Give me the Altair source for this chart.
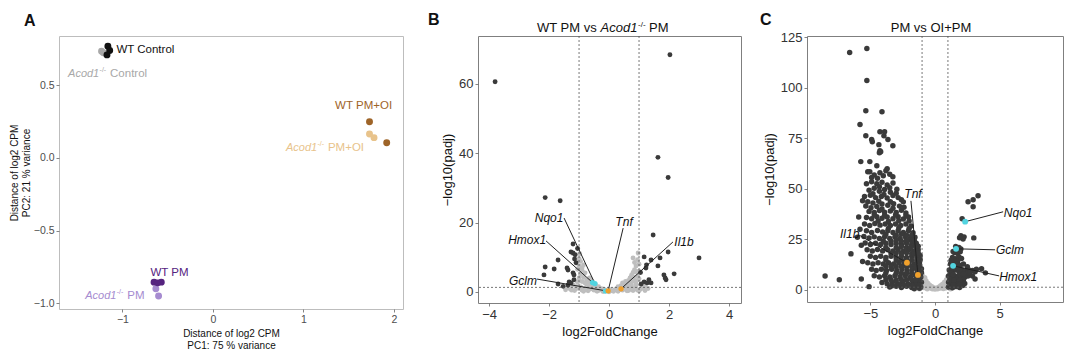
import altair as alt
import pandas as pd

FONT = "Liberation Sans"

# ---------------- Panel A : PCA ----------------
pca_group = ["Acod1 Control", "Acod1 Control", "WT Control", "WT Control", "WT Control",
             "Acod1 PM+OI", "Acod1 PM+OI", "WT PM+OI", "WT PM+OI",
             "Acod1 PM", "Acod1 PM", "WT PM", "WT PM", "WT PM"]
pca_pc1 = [-1.23, -1.21, -1.16, -1.14, -1.17, 1.73, 1.78, 1.73, 1.92, -0.63, -0.60, -0.65, -0.61, -0.57]
pca_pc2 = [0.735, 0.725, 0.77, 0.74, 0.71, 0.165, 0.14, 0.25, 0.105, -0.90, -0.95, -0.855, -0.86, -0.855]

group_names = ["WT Control", "Acod1 Control", "WT PM+OI", "Acod1 PM+OI", "WT PM", "Acod1 PM"]
group_colors = ["#111111", "#A8A8A8", "#9E6428", "#E8C38B", "#55237F", "#A68BD0"]

wt_label_text = ["WT Control", "WT PM+OI", "WT PM"]
wt_label_group = ["WT Control", "WT PM+OI", "WT PM"]
wt_label_x = [-1.066, 1.35, -0.69]
wt_label_y = [0.741, 0.355, -0.79]

ko_label_suffix = ["Control", "PM+OI", "PM"]
ko_label_group = ["Acod1 Control", "Acod1 PM+OI", "Acod1 PM"]
ko_label_x = [-1.60, 0.807, -1.41]
ko_label_y = [0.576, 0.072, -0.948]

# ---------------- Panel B : WT PM vs Acod1-/- PM ----------------
b_dark = [(-3.8, 60.6), (-2.13, 27.2), (-1.63, 26.3), (-1.2, 13.8), (-1.27, 11.5), (-1.2, 11.2),
          (-1.13, 10.7), (-1.1, 8.4), (-1.7, 9.2), (-2.13, 7.2), (-1.83, 6.6), (-2.17, 4.9),
          (-1.37, 6.3), (-1.2, 5.5), (-1.17, 4.9), (-1.33, 2.9), (-1.27, 2.6), (-1.17, 3.5),
          (-1.7, 2.3), (-1.53, 1.6), (-1.37, 2.0), (-1.4, 6.9), (-1.05, 12.5), (-1.15, 9.5),
          (2.03, 68.4), (1.63, 38.8), (1.97, 33.0), (1.47, 16.4), (1.97, 11.5), (1.17, 10.1),
          (1.4, 9.2), (1.7, 9.8), (1.63, 7.5), (1.23, 6.9), (3.0, 9.8), (1.83, 4.9), (1.87, 4.0),
          (1.9, 3.5), (2.17, 5.2), (1.17, 2.9), (1.27, 2.6), (1.4, 2.6), (1.07, 2.3), (1.33, 3.5),
          (1.25, 7.8), (1.05, 5.6)]
b_grey = [(-1.45, 0.6), (-1.3, 0.9), (-1.15, 0.4), (-1.0, 1.0), (-0.9, 0.5), (-0.8, 0.8), (-0.7, 0.3),
          (-0.6, 0.9), (-0.5, 0.5), (-0.4, 0.2), (-0.3, 0.6), (-0.2, 0.1), (-0.1, 0.4), (0.0, 0.05),
          (0.1, 0.3), (0.2, 0.6), (0.3, 0.2), (0.45, 0.5), (0.55, 0.9), (0.65, 0.4), (0.75, 0.7),
          (0.85, 1.0), (0.95, 0.5), (1.05, 0.8), (1.2, 0.4), (1.3, 1.0),
          (-0.5, 1.6), (-0.6, 2.2), (-0.7, 1.8), (-0.8, 2.6), (-0.75, 3.4), (-0.9, 3.0), (-0.85, 4.2),
          (-0.95, 5.0), (-0.9, 6.2), (-1.0, 7.5), (-0.95, 8.8), (-1.0, 9.6), (-0.7, 2.9), (-0.55, 2.9),
          (-0.65, 4.0), (-0.8, 5.5), (-0.9, 7.0), (-0.45, 2.0), (-0.35, 1.5), (-1.1, 1.5), (-1.2, 2.0),
          (-1.05, 2.8), (-0.98, 11.0),
          (0.3, 1.5), (0.4, 1.8), (0.5, 2.2), (0.6, 2.6), (0.65, 3.3), (0.7, 4.0), (0.75, 4.8),
          (0.8, 5.6), (0.85, 6.4), (0.9, 7.5), (0.8, 9.8), (0.97, 11.2), (0.55, 3.0), (0.7, 2.3),
          (0.85, 3.5), (0.95, 4.5), (0.9, 2.2), (0.6, 1.6), (0.75, 1.8), (1.0, 6.0), (0.45, 2.6),
          (0.85, 8.5), (1.1, 1.5), (1.2, 1.8)]
b_grey_extra = [(-1.35, 1.2), (-1.25, 0.5), (-1.1, 1.0), (-0.95, 1.4), (-0.85, 0.2), (-0.75, 1.2),
                (-0.65, 0.8), (-0.55, 1.2), (-0.45, 0.9), (-0.35, 0.4), (-0.25, 0.9), (-0.15, 0.6),
                (0.05, 0.6), (0.15, 0.2), (0.25, 0.9), (0.35, 0.6), (0.5, 1.2), (0.6, 0.3), (0.7, 1.2),
                (0.8, 0.4), (0.9, 1.3), (1.0, 0.3), (1.15, 1.1), (-1.0, 4.0), (-1.05, 6.5), (-0.85, 7.8),
                (-0.6, 3.5), (-0.75, 2.2), (0.75, 2.8), (0.9, 3.0), (1.0, 3.8), (0.8, 4.3), (0.9, 5.8),
                (1.0, 8.0), (0.95, 9.3), (0.65, 1.9), (0.5, 1.6)]
b_cyan = [(-0.47, 2.4), (-0.55, 2.7), (-0.12, 0.25)]
b_orange = [(-0.03, 0.3), (0.4, 0.9)]

b_gene = ["Nqo1", "Hmox1", "Gclm", "Tnf", "Il1b"]
b_gene_lx = [-2.0, -2.73, -2.87, 0.5, 2.5]
b_gene_ly = [21.3, 15.0, 3.2, 20.2, 14.4]
b_seg_x1 = [-1.5, -2.1, -2.4, 0.47, 2.13]
b_seg_y1 = [21.3, 14.7, 3.7, 18.4, 14.4]
b_seg_x2 = [-0.47, -0.55, -0.1, -0.03, 0.4]
b_seg_y2 = [2.4, 2.7, 0.3, 0.3, 0.9]

# ---------------- Panel C : PM vs OI+PM ----------------
c_dark_top = [(-6.6, 117.3), (-5.27, 119.3), (-5.27, 103.5), (-5.35, 88.6), (-4.1, 88.1), (-5.8, 81.7),
              (-5.35, 76.2), (-4.9, 74.3), (-4.85, 73.2), (-4.26, 78.2), (-3.9, 78.2), (-3.95, 76.2),
              (-3.64, 74.3), (-3.26, 71.3), (-4.34, 71.8), (-4.26, 68.8), (-4.3, 67.8), (-4.2, 68.3),
              (-5.74, 63.4), (-5.04, 63.4), (-4.5, 61.4), (-3.7, 59.9), (-5.2, 58.4), (-4.26, 57.9),
              (-3.8, 58.9), (-3.26, 55.9), (-4.0, 56.4), (-5.04, 58.4), (-4.7, 56.8), (-4.45, 55.2),
              (-3.5, 57.2), (-4.9, 55.6)]
c_dark_mid = [(-5.3, 52.5), (-4.9, 53.5), (-4.5, 52.5), (-4.1, 53.2), (-3.7, 51.8), (-3.25, 52.8),
              (-5.1, 49.2), (-4.7, 50.2), (-4.3, 48.8), (-3.9, 49.6), (-3.45, 48.2), (-2.95, 49.8),
              (-5.45, 46.2), (-5.0, 46.8), (-4.6, 45.6), (-4.15, 46.2), (-3.7, 45.4), (-3.25, 46.6),
              (-2.85, 45.6), (-5.2, 43.6), (-4.8, 43.0), (-5.6, 44.0), (-5.35, 41.5), (-4.95, 40.6),
              (-4.5, 41.2), (-4.1, 42.4), (-3.65, 41.8), (-3.2, 42.6), (-2.75, 41.4), (-2.45, 43.5),
              (-5.1, 38.8), (-4.7, 38.2), (-4.3, 39.2), (-3.9, 38.4), (-3.45, 39.0), (-3.0, 38.2),
              (-2.6, 39.4), (-2.25, 38.0), (-5.9, 36.0), (-5.3, 35.8), (-4.9, 35.2), (-4.5, 36.2),
              (-4.1, 35.4), (-3.7, 36.0), (-3.25, 35.2), (-2.85, 36.2), (-2.45, 35.0), (-2.05, 36.0),
              (-5.45, 32.6), (-5.05, 31.8), (-4.65, 32.8), (-4.25, 32.0), (-3.85, 32.6), (-3.45, 31.8),
              (-3.05, 32.6), (-2.65, 31.8), (-2.25, 32.6), (-1.85, 31.6), (-5.8, 30.0), (-5.3, 29.2),
              (-4.9, 28.4), (-4.45, 29.4), (-4.05, 28.6), (-3.65, 29.2), (-3.25, 28.4), (-2.85, 29.2),
              (-2.45, 28.4), (-2.05, 29.2), (-1.7, 28.2), (-6.0, 26.0), (-5.5, 26.4), (-5.1, 25.6),
              (-4.7, 26.2), (-4.3, 25.4), (-3.9, 26.2), (-3.5, 25.4), (-3.1, 26.2), (-2.7, 25.4),
              (-2.3, 26.2), (-1.9, 25.4), (-1.55, 26.0)]
c_dark_low = [(-5.7, 22.0), (-5.4, 23.2), (-5.0, 22.4), (-4.6, 23.0), (-4.2, 22.4), (-3.8, 23.0),
              (-3.4, 22.4), (-3.0, 23.0), (-2.6, 22.4), (-2.2, 23.0), (-1.8, 22.4), (-1.45, 23.0),
              (-5.25, 19.8), (-4.85, 19.2), (-4.45, 20.0), (-4.05, 19.2), (-3.65, 19.8), (-3.25, 19.2),
              (-2.85, 19.8), (-2.45, 19.2), (-2.05, 19.8), (-1.65, 19.2), (-1.3, 19.8), (-6.5, 17.8),
              (-5.0, 16.6), (-4.6, 16.0), (-4.2, 16.6), (-3.8, 16.0), (-3.4, 16.6), (-3.0, 16.0),
              (-2.6, 16.6), (-2.2, 16.0), (-1.8, 16.6), (-1.4, 16.0), (-1.15, 17.0), (-5.6, 14.0),
              (-5.2, 13.4), (-4.8, 12.8), (-4.4, 13.4), (-4.0, 12.8), (-3.6, 13.4), (-3.2, 12.8),
              (-2.8, 13.4), (-2.4, 12.8), (-2.0, 13.4), (-1.6, 12.8), (-1.2, 13.4), (-4.9, 10.2),
              (-4.55, 9.6), (-4.15, 10.2), (-3.75, 9.6), (-3.35, 10.2), (-2.95, 9.6), (-2.55, 10.2),
              (-2.15, 9.6), (-1.75, 10.2), (-1.35, 9.6), (-1.05, 10.4), (-4.7, 7.0), (-4.3, 6.4),
              (-3.9, 7.0), (-3.5, 6.4), (-3.1, 7.0), (-2.7, 6.4), (-2.3, 7.0), (-1.9, 6.4), (-1.5, 7.0),
              (-1.1, 6.4), (-4.1, 3.6), (-3.7, 3.0), (-3.3, 3.6), (-2.9, 3.0), (-2.5, 3.6), (-2.1, 3.0),
              (-1.7, 3.6), (-1.3, 3.0), (-1.05, 3.8), (-3.5, 1.4), (-3.0, 1.8), (-2.6, 1.2), (-2.2, 1.8),
              (-1.8, 1.2), (-1.4, 1.8), (-1.1, 1.4), (-8.5, 6.9), (-7.4, 5.0), (-5.7, 5.4), (-5.1, 1.6)]
c_dark_core = [(-3.0, 27.0), (-2.2, 27.0), (-2.6, 24.0), (-1.8, 24.0), (-3.4, 24.0), (-3.0, 21.0),
               (-2.2, 21.0), (-1.5, 21.4), (-3.4, 18.0), (-2.6, 18.0), (-1.8, 18.0), (-1.3, 18.2),
               (-3.0, 14.8), (-2.2, 14.8), (-1.4, 14.6), (-3.4, 11.6), (-2.6, 11.6), (-1.8, 11.6),
               (-1.2, 11.8), (-3.0, 8.2), (-2.2, 8.2), (-1.4, 8.2), (-1.05, 8.6), (-3.4, 5.0),
               (-2.6, 5.0), (-1.8, 5.0), (-1.2, 5.0), (-2.8, 2.4), (-2.0, 2.4), (-1.5, 2.4),
               (-1.2, 0.8), (-1.6, 0.6)]
c_dark_fill = [(-3.6, 30.4), (-2.8, 30.6), (-2.0, 30.4), (-3.8, 27.4), (-2.6, 27.6), (-1.8, 27.0),
               (-4.0, 24.2), (-3.0, 24.6), (-2.2, 24.4), (-1.6, 24.4), (-3.8, 21.0), (-2.6, 21.4),
               (-1.9, 21.0), (-1.3, 21.6), (-3.0, 18.2), (-2.2, 18.4), (-1.6, 17.8), (-3.8, 14.8),
               (-2.6, 14.8), (-1.8, 14.8), (-1.15, 15.0), (-3.8, 11.6), (-3.0, 11.4), (-2.2, 11.6),
               (-1.5, 11.2), (-3.8, 8.4), (-2.6, 8.2), (-1.8, 8.2), (-1.25, 8.0), (-3.8, 5.0),
               (-3.0, 4.8), (-2.2, 5.0), (-1.5, 4.8), (-3.3, 2.0), (-2.4, 2.2), (-1.75, 2.2),
               (-1.25, 2.2), (-4.3, 51.0), (-3.5, 50.5), (-4.8, 47.5), (-3.95, 47.2), (-3.0, 47.8),
               (-4.35, 43.8), (-3.45, 43.6), (-2.6, 44.6), (-4.1, 40.0), (-3.25, 40.4), (-2.4, 40.8),
               (-4.7, 37.0), (-3.9, 36.8), (-3.05, 37.0), (-2.25, 36.8), (-4.4, 34.0), (-3.6, 33.8),
               (-2.8, 34.2), (-2.0, 34.0)]
c_dark_right = [(2.56, 43.6), (2.95, 44.6), (3.33, 46.5), (2.95, 41.1), (2.1, 35.1), (2.0, 26.7),
                (2.25, 26.2), (3.0, 25.7), (2.17, 25.2), (1.9, 25.8),
                (1.6, 21.5), (1.85, 21.0), (2.0, 20.2), (1.5, 18.5), (1.75, 18.0), (1.95, 18.8),
                (1.65, 19.6), (1.35, 16.0), (1.6, 15.4), (1.85, 16.2), (2.05, 15.5), (1.45, 14.2),
                (1.75, 14.0), (1.2, 12.8), (1.45, 12.0), (1.7, 12.6), (1.95, 12.0), (2.2, 12.8),
                (1.3, 11.0), (2.5, 11.4), (1.1, 9.8), (1.35, 9.2), (1.6, 9.8), (1.85, 9.2), (2.1, 9.8),
                (2.35, 9.2), (2.6, 10.0), (2.9, 9.6), (3.2, 10.2), (3.6, 10.4), (3.9, 8.4), (3.1, 8.9),
                (1.2, 8.2), (1.05, 6.8), (1.3, 6.2), (1.55, 6.8), (1.8, 6.2), (2.05, 6.8), (2.3, 6.2),
                (2.55, 6.8), (2.9, 6.9), (3.1, 5.4), (1.15, 5.2), (1.65, 5.0), (2.2, 5.0), (1.05, 3.8),
                (1.3, 3.2), (1.55, 3.8), (1.8, 3.2), (2.05, 3.8), (2.3, 3.2), (1.15, 2.2), (1.65, 2.0),
                (2.15, 2.2), (1.05, 1.4), (1.35, 1.0), (1.6, 1.6), (1.9, 1.2),
                (1.4, 19.0), (1.25, 14.6), (1.5, 10.6), (1.75, 10.8), (1.4, 7.6), (1.9, 7.6), (1.2, 4.4),
                (1.45, 4.6), (1.9, 4.6), (1.4, 2.4), (1.9, 2.6), (2.5, 8.2), (2.2, 8.0), (2.7, 8.6)]
c_grey = [(-1.0, 7.5), (-0.95, 5.8), (-0.9, 4.2), (-0.8, 6.0), (-0.8, 3.0), (-0.7, 4.4), (-0.65, 2.2),
          (-0.55, 3.2), (-0.5, 1.6), (-0.4, 2.2), (-0.35, 1.0), (-0.25, 1.5), (-0.2, 0.6), (-0.1, 0.9),
          (0.0, 0.4), (0.1, 0.8), (0.2, 0.5), (0.3, 1.3), (0.4, 0.9), (0.45, 2.0), (0.55, 1.4),
          (0.6, 2.8), (0.7, 2.0), (0.75, 3.8), (0.85, 2.8), (0.9, 5.0), (0.95, 3.8), (1.0, 6.5),
          (-0.6, 0.6), (0.65, 0.7), (-0.85, 1.2), (0.85, 1.1), (-1.2, 0.5), (1.2, 0.6)]
c_cyan = [(2.33, 33.7), (1.63, 20.3), (1.4, 11.9)]
c_orange = [(-2.17, 13.4), (-1.32, 7.4)]

c_gene = ["Nqo1", "Gclm", "Hmox1", "Il1b", "Tnf"]
c_gene_lx = [6.43, 5.8, 6.43, -6.6, -1.7]
c_gene_ly = [38.1, 19.8, 6.4, 27.7, 47.5]
c_seg_x1 = [5.27, 4.65, 4.96, -5.9, -1.86]
c_seg_y1 = [38.6, 19.8, 6.9, 27.2, 44.0]
c_seg_x2 = [2.33, 1.63, 1.4, -2.17, -1.32]
c_seg_y2 = [33.7, 20.3, 11.9, 13.4, 7.4]

lfc_cutoffs = [-1, 1]
padj_cutoff = [1.3]

CYAN = "#52D4E0"
ORANGE = "#F0A02C"
DARK = "#3A3A3A"
GREY = "#BEBEBE"


def axis(values, fmt, title, lsize, lcolor, tsize, tpad=4):
    return alt.Axis(values=values, format=fmt, title=title, grid=False, domain=False,
                    ticks=True, tickSize=3, tickColor="#666666", tickWidth=0.8,
                    labelFont=FONT, labelFontSize=lsize, labelColor=lcolor, labelPadding=2,
                    labelAngle=0, titleFont=FONT, titleFontSize=tsize, titleFontWeight="normal",
                    titleColor="#111111", titlePadding=tpad)


def enc(xdom, ydom, xax, yax):
    X = alt.X("x:Q", scale=alt.Scale(domain=xdom, nice=False, zero=False), axis=xax)
    Y = alt.Y("y:Q", scale=alt.Scale(domain=ydom, nice=False, zero=False), axis=yax)
    return X, Y


def pts(pairs):
    return pd.DataFrame({"x": [p[0] for p in pairs], "y": [p[1] for p in pairs]})


def one_text(txt, x, y, size, weight="normal", style="normal", align="left", baseline="alphabetic"):
    return alt.Chart(pd.DataFrame({"t": [txt]})).mark_text(
        font=FONT, fontSize=size, fontWeight=weight, fontStyle=style, align=align,
        baseline=baseline, color="#111111").encode(x=alt.value(x), y=alt.value(y), text="t:N")


# ---------- Panel A ----------
XA, YA = enc([-1.70, 2.10], [-1.04, 0.84],
             axis([-1, 0, 1, 2], "d", ["Distance of log2 CPM", "PC1:  75 % variance"], 10.5, "#4D4D4D", 10),
             axis([-1, -0.5, 0, 0.5], ".1f", ["Distance of log2 CPM", "PC2:  21 % variance"], 10.5,
                  "#4D4D4D", 10, tpad=2))
gscale = alt.Scale(domain=group_names, range=group_colors)
dfA = pd.DataFrame({"x": pca_pc1, "y": pca_pc2, "group": pca_group})
a_pts = alt.Chart(dfA).mark_circle(size=48, opacity=1).encode(
    x=XA, y=YA, color=alt.Color("group:N", scale=gscale, legend=None))
dfW = pd.DataFrame({"x": wt_label_x, "y": wt_label_y, "t": wt_label_text, "group": wt_label_group})
a_wt = alt.Chart(dfW).mark_text(font=FONT, fontSize=11.5, align="left", baseline="middle").encode(
    x=XA, y=YA, text="t:N", color=alt.Color("group:N", scale=gscale, legend=None))
dfK = pd.DataFrame({"x": ko_label_x, "y": ko_label_y, "t": ko_label_suffix, "group": ko_label_group})
a_k1 = alt.Chart(dfK).mark_text(font=FONT, fontSize=11, fontStyle="italic", align="left",
                                baseline="middle").encode(
    x=XA, y=YA, text=alt.value("Acod1"), color=alt.Color("group:N", scale=gscale, legend=None))
a_k2 = alt.Chart(dfK).mark_text(font=FONT, fontSize=7, align="left", baseline="middle", dx=31.5, dy=-4).encode(
    x=XA, y=YA, text=alt.value("-/-"), color=alt.Color("group:N", scale=gscale, legend=None))
a_k3 = alt.Chart(dfK).mark_text(font=FONT, fontSize=11.5, align="left", baseline="middle", dx=42).encode(
    x=XA, y=YA, text="t:N", color=alt.Color("group:N", scale=gscale, legend=None))
panelA = alt.layer(a_pts, a_wt, a_k1, a_k2, a_k3, one_text("A", -35, -10, 16, weight="bold")).properties(
    width=344, height=273, view=alt.ViewBackground(stroke="#BDBDBD", strokeWidth=1))


# ---------- Volcano helper ----------
def volcano(xdom, ydom, xvals, yvals, dark, grey, cyan, orange, genes, glx, gly, sx1, sy1, sx2, sy2,
            title_layers, letter, letter_x, w, h, psize):
    X, Y = enc(xdom, ydom,
               axis(xvals, "d", "log2FoldChange", 13, "#333333", 13),
               axis(yvals, "d", "\u2212log10(padj)", 13, "#333333", 13))
    g = alt.Chart(pts(grey)).mark_circle(size=psize, opacity=1, color=GREY).encode(x=X, y=Y)
    d = alt.Chart(pts(dark)).mark_circle(size=psize, opacity=1, color=DARK).encode(x=X, y=Y)
    vl = alt.Chart(pd.DataFrame({"x": lfc_cutoffs})).mark_rule(
        strokeDash=[2, 2], color="#555555", strokeWidth=0.8).encode(x=X)
    hl_ = alt.Chart(pd.DataFrame({"y": padj_cutoff})).mark_rule(
        strokeDash=[2, 2], color="#555555", strokeWidth=0.8).encode(y=Y)
    seg = alt.Chart(pd.DataFrame({"x": sx1, "y": sy1, "x2": sx2, "y2": sy2})).mark_rule(
        color="#222222", strokeWidth=1).encode(x=X, y=Y, x2="x2:Q", y2="y2:Q")
    cy = alt.Chart(pts(cyan)).mark_circle(size=psize + 4, opacity=1, color=CYAN).encode(x=X, y=Y)
    orv = alt.Chart(pts(orange)).mark_circle(size=psize + 4, opacity=1, color=ORANGE).encode(x=X, y=Y)
    lab = alt.Chart(pd.DataFrame({"x": glx, "y": gly, "t": genes})).mark_text(
        font=FONT, fontSize=12, fontStyle="italic", align="center", baseline="middle", color="#111111").encode(
        x=X, y=Y, text="t:N")
    layers = [g, d, vl, hl_, seg, cy, orv, lab] + title_layers + \
        [one_text(letter, letter_x, -11, 16, weight="bold")]
    return alt.layer(*layers).properties(width=w, height=h,
                                          view=alt.ViewBackground(stroke="#7F7F7F", strokeWidth=1))


b_title = [one_text("WT PM vs", 59, -4, 13),
           one_text("Acod1", 122.5, -4, 13, style="italic"),
           one_text("-/-", 160, -9, 8),
           one_text("PM", 171, -4, 13)]
panelB = volcano([-4.37, 4.4], [-3.2, 73.8], [-4, -2, 0, 2, 4], [0, 20, 40, 60],
                 b_dark, b_grey + b_grey_extra, b_cyan, b_orange, b_gene, b_gene_lx, b_gene_ly,
                 b_seg_x1, b_seg_y1, b_seg_x2, b_seg_y2, b_title, "B", -50, 263, 267, 24)

c_title = [one_text("PM vs OI+PM", 124, -4, 13, align="center")]
panelC = volcano([-9.9, 9.9], [-6, 125.5], [-5, 0, 5], [0, 25, 50, 75, 100, 125],
                 c_dark_top + c_dark_mid + c_dark_low + c_dark_core + c_dark_fill + c_dark_right, c_grey,
                 c_cyan, c_orange, c_gene, c_gene_lx, c_gene_ly,
                 c_seg_x1, c_seg_y1, c_seg_x2, c_seg_y2, c_title, "C", -47, 256, 266, 30)

chart = alt.hconcat(panelA, alt.hconcat(panelB, panelC, spacing=17), spacing=23).configure(
    background="white", padding={"left": 0, "top": 3, "right": 5, "bottom": 5})

chart.save("out.html", embed_options={"renderer": "svg", "actions": False})
